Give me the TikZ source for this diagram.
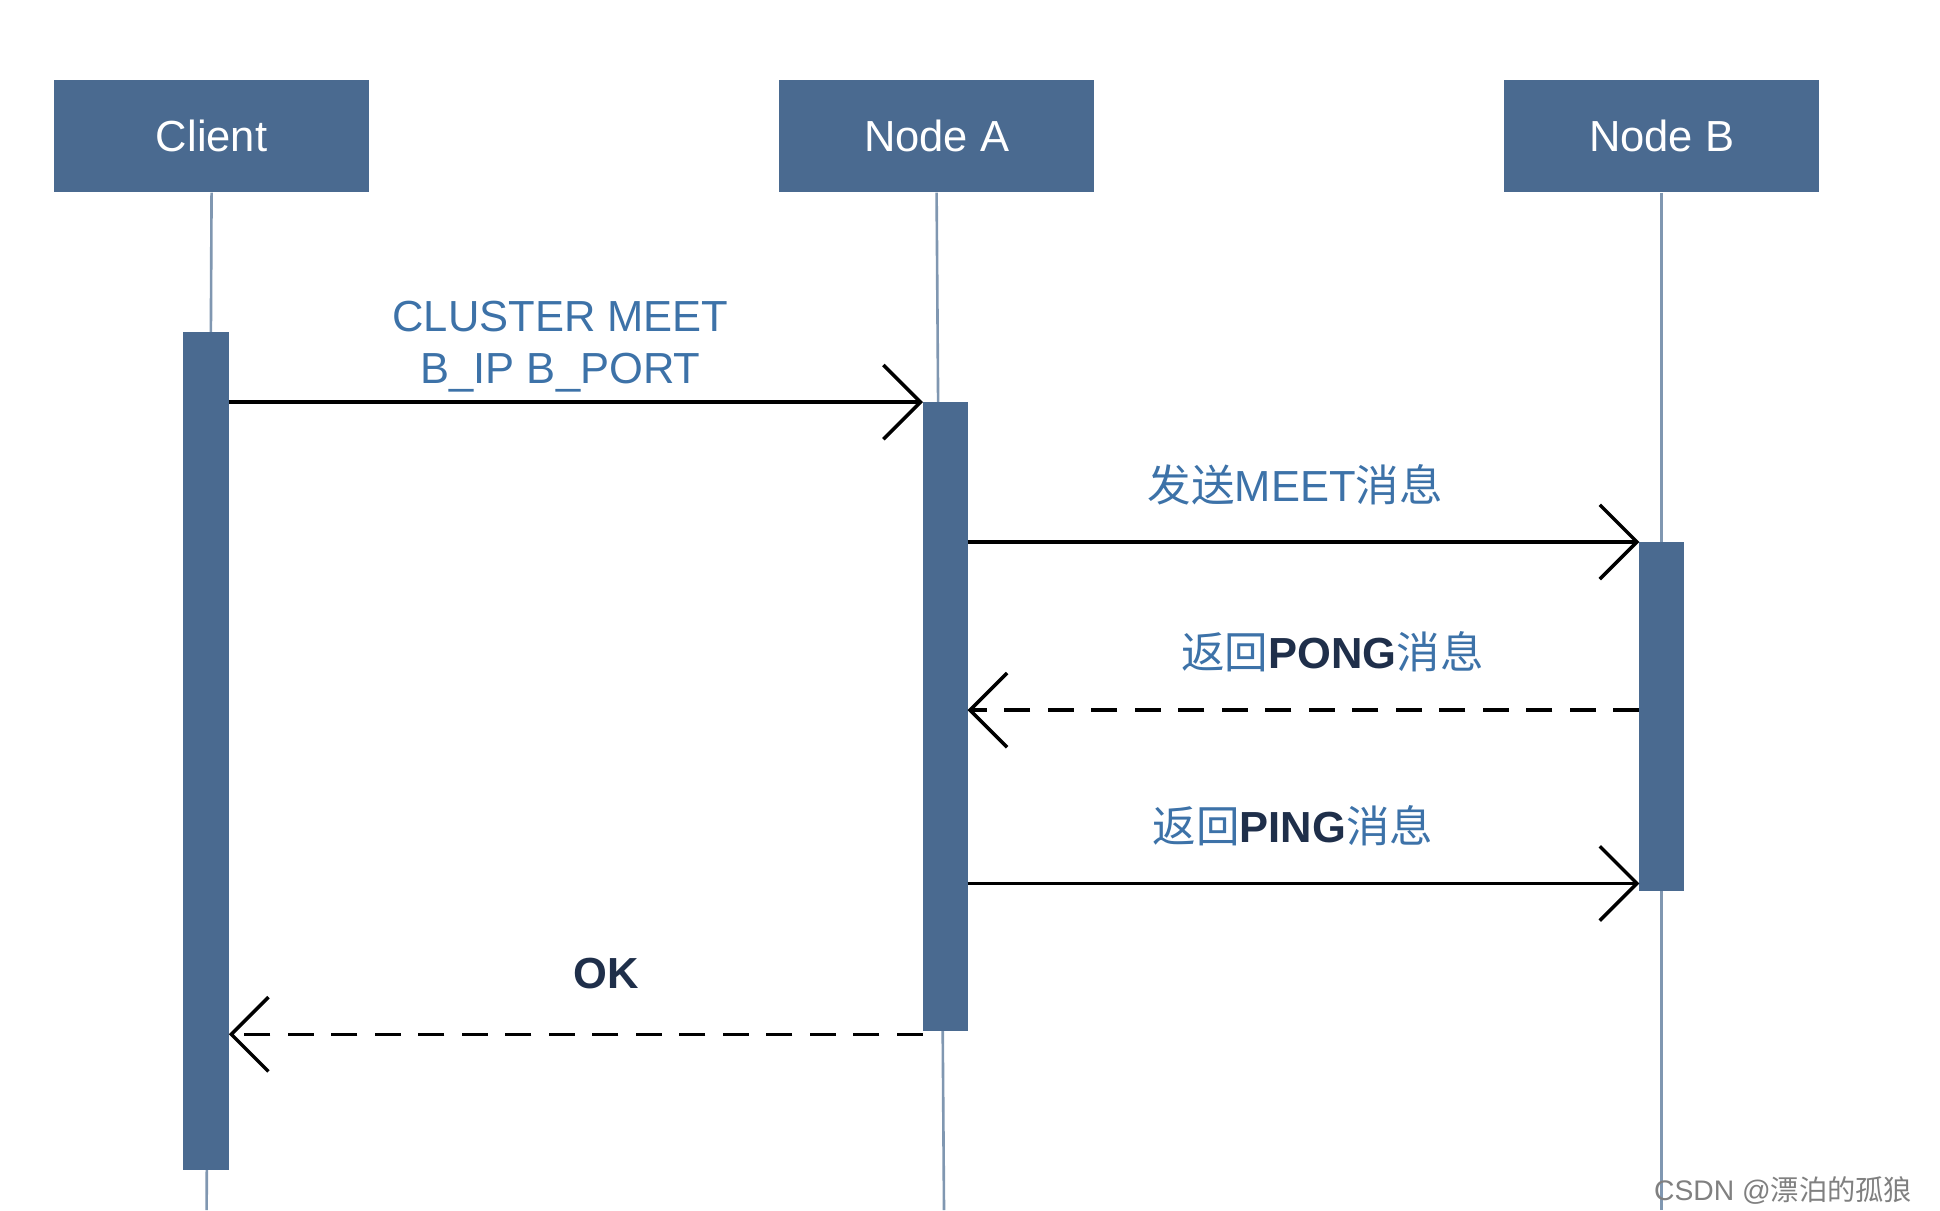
\documentclass[tikz,border=0pt]{standalone}
\usepackage{fontspec}
\setmainfont{Liberation Sans}
\newfontfamily\cjk{Noto Sans CJK SC}
\usetikzlibrary{arrows.meta}
\definecolor{boxblue}{HTML}{4A6A90}
\definecolor{txtblue}{HTML}{3D72A8}
\definecolor{darkt}{HTML}{1F2F4A}
\begin{document}
\begin{tikzpicture}[x=0.01cm,y=-0.01cm,>={Straight Barb[length=3mm,width=6mm]}]
% — styles ––––––––––––––––––––––––––
\tikzstyle{actor}=[fill=boxblue,text=white,minimum width=2.54cm,minimum height=0.9cm,inner sep=0pt,font=\fontsize{10}{12}\selectfont]
\tikzstyle{life}=[boxblue!70,line width=0.6pt]
\tikzstyle{bar}=[fill=boxblue]
\tikzstyle{msg}=[line width=0.8pt,->]
\tikzstyle{reply}=[msg,dash pattern=on 6pt off 4pt]
\tikzstyle{lbl}=[text=txtblue,font=\fontsize{10}{12}\selectfont,align=center]

\useasboundingbox (0,0) rectangle (1568,978);

% --- actors ---------------------------------------------------
\node[actor] (client) at (171,110) {Client};
\node[actor] (nodea) at (757,110) {Node A};
\node[actor] (nodeb) at (1343,110) {Node B};

% lifelines
\coordinate (cend) at (167,978);
\coordinate (aend) at (763,978);
\coordinate (bend) at (1343,978);
\draw[life] (client.south) -- (cend);
\draw[life] (nodea.south) -- (aend);
\draw[life] (nodeb.south) -- (bend);

% --- activation bars ------------------------------------------
\fill[bar] (148,268) rectangle (185,946);
\fill[bar] (746,325) rectangle (782,833);
\fill[bar] (1325,438) rectangle (1361,720);

% --- messages -------------------------------------------------
\coordinate (m1s) at (185,325); \coordinate (m1e) at (746,325);
\coordinate (m2s) at (782,438); \coordinate (m2e) at (1325,438);
\coordinate (m3s) at (1325,574); \coordinate (m3e) at (782,574);
\coordinate (m4s) at (782,714); \coordinate (m4e) at (1325,714);
\coordinate (m5s) at (746,836); \coordinate (m5e) at (185,836);

\draw[msg] (m1s) -- (m1e);
\draw[msg] (m2s) -- (m2e);
\draw[reply] (m3s) -- (m3e);
\draw[msg] (m4s) -- (m4e);
\draw[reply] (m5s) -- (m5e);

% labels
\node[lbl] (l1) at (453,280) {CLUSTER MEET\\B\_IP B\_PORT};
\node[lbl] (l2) at (1047,392) {{\cjk 发送}MEET{\cjk 消息}};
\node[lbl] (l3) at (1077,527) {{\cjk 返回}\textcolor{darkt}{\textbf{PONG}}{\cjk 消息}};
\node[lbl] (l4) at (1045,667) {{\cjk 返回}\textcolor{darkt}{\textbf{PING}}{\cjk 消息}};
\node[lbl,text=darkt] (l5) at (490,787) {\textbf{OK}};

% watermark
\node[text=gray,font=\fontsize{6.5}{8}\selectfont,anchor=east] (wm) at (1558,962) {CSDN @{\cjk 漂泊的孤狼}};
\end{tikzpicture}
\end{document}
